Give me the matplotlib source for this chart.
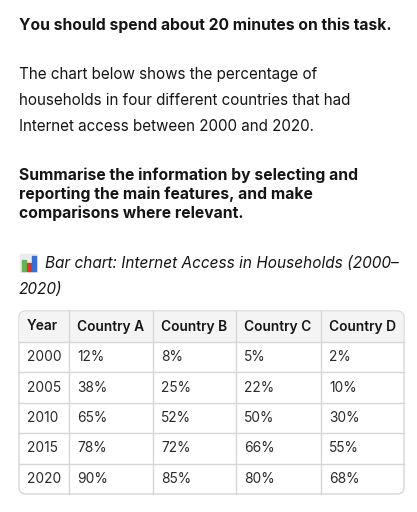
import matplotlib.pyplot as plt
from matplotlib.patches import Rectangle, FancyBboxPatch

plt.rcParams['font.family'] = ['Inter', 'DejaVu Sans']

# data
years = ['2000', '2005', '2010', '2015', '2020']
countries = ['Country A', 'Country B', 'Country C', 'Country D']
country_a = [12, 38, 65, 78, 90]
country_b = [8, 25, 52, 72, 85]
country_c = [5, 22, 50, 66, 80]
country_d = [2, 10, 30, 55, 68]

intro = 'You should spend about 20 minutes on this task.'
para = ['The chart below shows the percentage of',
        'households in four different countries that had',
        'Internet access between 2000 and 2020.']
task = ['Summarise the information by selecting and',
        'reporting the main features, and make',
        'comparisons where relevant.']
caption = ['Bar chart: Internet Access in Households (2000\u2013', '2020)']

W, H = 417, 512
fig = plt.figure(figsize=(W / 100, H / 100), dpi=100)
ax = fig.add_axes([0, 0, 1, 1])
ax.set_xlim(0, W)
ax.set_ylim(H, 0)
ax.axis('off')

ink = '#151517'
left = 19

ax.text(left, 25, intro, fontsize=11.25, fontweight='bold', color=ink, va='center')
for i, line in enumerate(para):
    ax.text(left, 74 + i * 26.3, line, fontsize=10.95, color=ink, va='center')
for i, line in enumerate(task):
    ax.text(left, 175 + i * 19, line, fontsize=11.3, fontweight='bold', color=ink, va='center')

# little bar-chart icon
ax.add_patch(Rectangle((20, 254), 17, 18, color='#e9ebee', zorder=1))
ax.add_patch(Rectangle((22, 260), 4, 11, color='#5bb94e', zorder=2))
ax.add_patch(Rectangle((27, 263), 4, 8, color='#d23a2c', zorder=2))
ax.add_patch(Rectangle((32, 256), 4, 15, color='#3a6fd0', zorder=2))
ax.text(45, 263, caption[0], fontsize=11.05, style='italic', color=ink, va='center')
ax.text(left, 290, caption[1], fontsize=11.05, style='italic', color=ink, va='center')

# table
t_left, t_right, t_top = 19, 404, 311
head_h, row_h = 31, 30.4
col_edges = [t_left, 69, 153, 236, 321, t_right]
t_bot = t_top + head_h + row_h * len(years)
grid = '#d6d6d6'

ax.add_patch(FancyBboxPatch((t_left, t_top), t_right - t_left, t_bot - t_top,
                            boxstyle='round,pad=0,rounding_size=7',
                            facecolor='white', edgecolor=grid, lw=1, zorder=1))
ax.add_patch(FancyBboxPatch((t_left + 0.5, t_top + 0.5), t_right - t_left - 1, head_h,
                            boxstyle='round,pad=0,rounding_size=6',
                            facecolor='#f4f4f4', edgecolor='none', zorder=1))
ax.add_patch(Rectangle((t_left + 0.5, t_top + 10), t_right - t_left - 1, head_h - 9.5,
                       facecolor='#f4f4f4', edgecolor='none', zorder=1))
for x in col_edges[1:-1]:
    ax.plot([x, x], [t_top, t_bot], color=grid, lw=1, zorder=2)
for r in range(len(years)):
    y = t_top + head_h + r * row_h
    ax.plot([t_left, t_right], [y, y], color=grid, lw=1, zorder=2)

header = ['Year'] + countries
for c, label in enumerate(header):
    ax.text(col_edges[c] + 8, t_top + head_h / 2, label, fontsize=9.9,
            fontweight='semibold', color=ink, va='center', zorder=3)

columns = [country_a, country_b, country_c, country_d]
for r, yr in enumerate(years):
    yc = t_top + head_h + (r + 0.5) * row_h
    ax.text(col_edges[0] + 8, yc, yr, fontsize=9.9, color='#2a2a2a', va='center', zorder=3)
    for c, vals in enumerate(columns):
        ax.text(col_edges[c + 1] + 8, yc, f'{vals[r]}%', fontsize=9.9,
                color='#2a2a2a', va='center', zorder=3)

fig.savefig('out.png', dpi=100, facecolor='white')
